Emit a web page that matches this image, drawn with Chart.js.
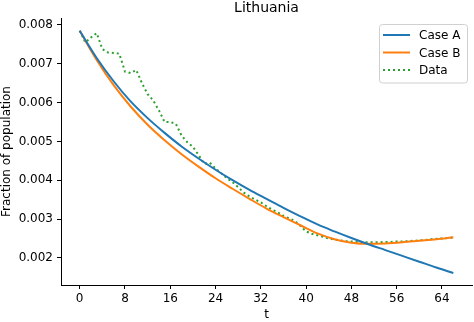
<!DOCTYPE html>
<html>
<head>
<meta charset="utf-8">
<script src="https://cdn.jsdelivr.net/npm/chart.js@4.4.1/dist/chart.umd.min.js"></script>
<style>
    html, body { margin: 0; padding: 0; background: #fff; }
    #wrap { width: 474px; height: 322px; }
</style>
</head>
<body>
<div id="wrap"><canvas id="lithuaniaChart" width="474" height="322"></canvas></div>
<script>
// model time grid (days)
const tModel = [0, 3, 6, 9, 12, 15, 18, 21, 24, 27, 30, 33, 36, 39, 42, 45, 48, 51, 54, 57, 60, 63, 66];
const caseA = [0.00785, 0.00715, 0.00655, 0.00603, 0.00560, 0.00522, 0.00487, 0.00456, 0.00427, 0.00400,
    0.00375, 0.00352, 0.00329, 0.00307, 0.00286, 0.00268, 0.00251, 0.00235, 0.00220, 0.00205,
    0.00190, 0.00175, 0.00161];
const caseB = [0.00785, 0.00710, 0.00645, 0.00590, 0.00543, 0.00503, 0.00467, 0.00435, 0.00405, 0.00378,
    0.00352, 0.00327, 0.00305, 0.00284, 0.00263, 0.00248, 0.00239, 0.00236, 0.00237, 0.00240,
    0.00244, 0.00248, 0.00253];

// observed fraction, one value per day
const tDays = [0, 1, 2, 3, 4, 5, 6, 7, 8, 9, 10, 11, 12, 13, 14, 15, 16, 17, 18, 19, 20, 21, 22,
    23, 24, 25, 26, 27, 28, 29, 30, 31, 32, 33, 34, 35, 36, 37, 38, 39, 40, 41, 42, 43, 44,
    45, 46, 47, 48, 49, 50, 51, 52, 53, 54, 55, 56, 57, 58, 59, 60, 61, 62, 63, 64, 65, 66];
const observed = [0.00785, 0.00755, 0.00768, 0.00779, 0.00738, 0.00729, 0.00728, 0.00726, 0.00680, 0.00676,
    0.00684, 0.00650, 0.00622, 0.00605, 0.00580, 0.00550, 0.00550, 0.00545, 0.00515, 0.00498,
    0.00486, 0.00465, 0.00442, 0.00445, 0.00430, 0.00418, 0.00405, 0.00395, 0.00382, 0.00368,
    0.00358, 0.00350, 0.00343, 0.00333, 0.00324, 0.00317, 0.00308, 0.00302, 0.00295, 0.00282,
    0.00268, 0.00262, 0.00258, 0.00254, 0.00250, 0.00247, 0.00245, 0.00243, 0.00242, 0.00241,
    0.00240, 0.00240, 0.00240, 0.00240, 0.00241, 0.00241, 0.00242, 0.00242, 0.00243, 0.00244,
    0.00245, 0.00246, 0.00248, 0.00249, 0.00250, 0.00251, 0.00252];

const xTicks = [0, 8, 16, 24, 32, 40, 48, 56, 64];
const yTicks = [0.002, 0.003, 0.004, 0.005, 0.006, 0.007, 0.008];

const FONT = 'DejaVu Sans';

function toPoints(xs, ys) {
    return xs.map((x, i) => ({ x: x, y: ys[i] }));
}

// title centred over the plot area, like a matplotlib axes title
const axesTitle = {
    id: 'axesTitle',
    afterDraw(chart) {
        const { ctx, chartArea } = chart;
        ctx.save();
        ctx.font = '14px "' + FONT + '"';
        ctx.fillStyle = '#000';
        ctx.textAlign = 'center';
        ctx.textBaseline = 'middle';
        ctx.fillText('Lithuania', (chartArea.left + chartArea.right) / 2, 8.5);
        ctx.restore();
    }
};

// boxed legend in the upper right corner
const boxLegend = {
    id: 'boxLegend',
    afterDraw(chart) {
        const ctx = chart.ctx;
        const x0 = 379, y0 = 24, w = 88, rowH = 17.5;
        const sets = chart.data.datasets;
        const h = rowH * sets.length + 6;
        ctx.save();
        ctx.fillStyle = 'rgba(255,255,255,0.8)';
        ctx.strokeStyle = '#d0d0d0';
        ctx.lineWidth = 1;
        ctx.beginPath();
        ctx.roundRect(x0 + 0.5, y0 + 0.5, w, h, 3);
        ctx.fill();
        ctx.stroke();
        ctx.font = '12px "' + FONT + '"';
        ctx.textBaseline = 'middle';
        ctx.fillStyle = '#000';
        sets.forEach((ds, i) => {
            const cy = y0 + 11 + i * rowH;
            ctx.beginPath();
            ctx.strokeStyle = ds.borderColor;
            ctx.lineWidth = ds.borderWidth;
            ctx.setLineDash(ds.borderDash || []);
            ctx.moveTo(x0 + 4, cy);
            ctx.lineTo(x0 + 31, cy);
            ctx.stroke();
            ctx.setLineDash([]);
            ctx.fillText(ds.label, x0 + 40, cy + 1);
        });
        ctx.restore();
    }
};

const ctx = document.getElementById('lithuaniaChart').getContext('2d');
new Chart(ctx, {
    type: 'line',
    data: {
        datasets: [
            {
                label: 'Case A',
                data: toPoints(tModel, caseA),
                borderColor: '#1f77b4',
                borderWidth: 2,
                pointRadius: 0,
                cubicInterpolationMode: 'monotone',
                fill: false
            },
            {
                label: 'Case B',
                data: toPoints(tModel, caseB),
                borderColor: '#ff7f0e',
                borderWidth: 2,
                pointRadius: 0,
                cubicInterpolationMode: 'monotone',
                fill: false
            },
            {
                label: 'Data',
                data: toPoints(tDays, observed),
                borderColor: '#2ca02c',
                borderWidth: 2,
                borderDash: [2, 3],
                pointRadius: 0,
                fill: false
            }
        ]
    },
    options: {
        responsive: false,
        animation: false,
        devicePixelRatio: 1,
        layout: { padding: { top: 18, right: 2, left: 0, bottom: 0 } },
        plugins: {
            legend: { display: false },
            title: { display: false },
            tooltip: { enabled: false }
        },
        scales: {
            x: {
                type: 'linear',
                min: -3.3,
                max: 69.3,
                afterBuildTicks: axis => { axis.ticks = xTicks.map(v => ({ value: v })); },
                afterFit: axis => { axis.height = 37; },
                grid: { display: true, drawOnChartArea: false, drawTicks: true, tickLength: 4, color: '#000' },
                border: { display: true, color: '#000', width: 1 },
                ticks: {
                    font: { family: FONT, size: 12 },
                    color: '#000',
                    padding: 3,
                    maxRotation: 0,
                    autoSkip: false
                },
                title: {
                    display: true,
                    text: 't',
                    font: { family: FONT, size: 12 },
                    color: '#000',
                    padding: { top: 0, bottom: 0 }
                }
            },
            y: {
                type: 'linear',
                min: 0.0013,
                max: 0.00818,
                afterBuildTicks: axis => { axis.ticks = yTicks.map(v => ({ value: v })); },
                afterFit: axis => { axis.width = 61; },
                grid: { display: true, drawOnChartArea: false, drawTicks: true, tickLength: 4, color: '#000' },
                border: { display: true, color: '#000', width: 1 },
                ticks: {
                    font: { family: FONT, size: 12 },
                    color: '#000',
                    padding: 4,
                    callback: v => v.toFixed(3)
                },
                title: {
                    display: true,
                    text: 'Fraction of population',
                    font: { family: FONT, size: 12 },
                    color: '#000',
                    padding: { top: 0, bottom: 0 }
                }
            }
        }
    },
    plugins: [axesTitle, boxLegend]
});
</script>
</body>
</html>
